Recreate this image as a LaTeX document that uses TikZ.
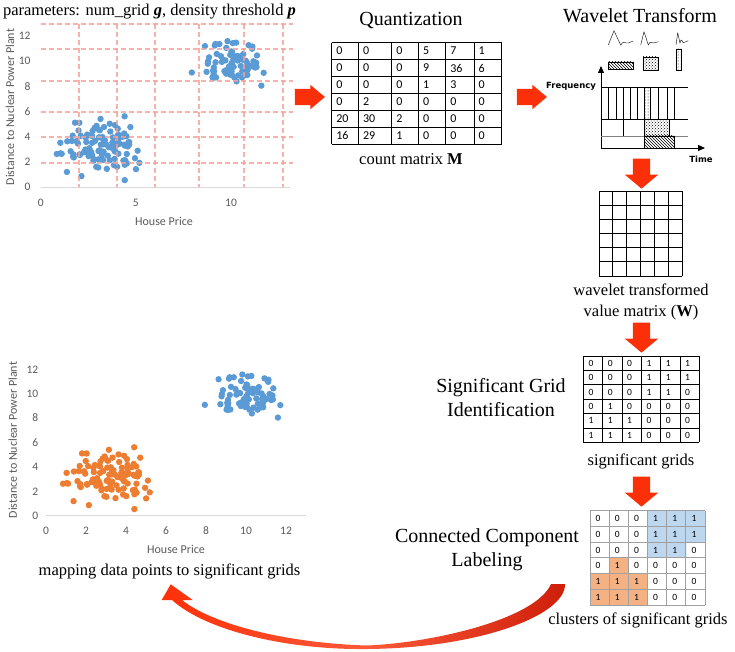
\documentclass[tikz,border=0pt]{standalone}
\usepackage{fontspec}
\setmainfont{Liberation Serif}
\newfontfamily\chartfont{Carlito}
\newfontfamily\pixfont{DejaVu Sans}
\usetikzlibrary{shapes.arrows,patterns,arrows.meta}

\definecolor{arrowred}{RGB}{252,48,8}
\definecolor{curvedark}{RGB}{205,30,10}
\definecolor{ptblue}{RGB}{91,155,213}
\definecolor{ptorange}{RGB}{237,125,49}
\definecolor{gridpink}{RGB}{245,160,150}
\definecolor{axgray}{RGB}{217,217,217}
\definecolor{lblgray}{RGB}{89,89,89}
\definecolor{cellblue}{RGB}{189,215,238}
\definecolor{cellorange}{RGB}{244,177,131}
\definecolor{cellline}{RGB}{160,160,160}

% one cloud of points, sum of three rand for a rough bell shape
\newcommand{\pointcloud}[5]{%
  \foreach \k in {1,...,#4}{
    \pgfmathsetmacro\ptx{#1+#3*(rand+rand+rand)}
    \pgfmathsetmacro\pty{#2+#3*(rand+rand+rand)}
    \fill[#5] (\ptx,\pty) circle[radius=3.2pt];
  }}

\begin{document}
\begin{tikzpicture}[x=1pt,y=-1pt,
  ttl/.style={inner sep=0pt, font=\fontsize{20}{24}\selectfont, align=center},
  captext/.style={inner sep=0pt, font=\fontsize{16.5}{21.5}\selectfont, align=center},
  ticklbl/.style={inner sep=0pt, text=lblgray, font=\chartfont\fontsize{11.5}{13}\selectfont},
  axttl/.style={inner sep=0pt, text=lblgray, font=\chartfont\fontsize{12}{14}\selectfont},
  harrow/.style={single arrow, fill=arrowred, draw=none, inner xsep=0pt, inner ysep=8pt,
    minimum height=30pt, single arrow head extend=4pt, single arrow tip angle=80},
  varrow/.style={single arrow, fill=arrowred, draw=none, inner xsep=0pt, inner ysep=8.5pt, rotate=-90,
    minimum height=30pt, single arrow head extend=8pt, single arrow tip angle=100}]
\tikzstyle{cnum}=[inner sep=0pt, anchor=west, font=\chartfont\fontsize{12}{14}\selectfont]
\tikzstyle{snum}=[inner sep=0pt, anchor=west, font=\chartfont\fontsize{9.5}{11}\selectfont]
\tikzstyle{pix}=[inner sep=0pt, font=\pixfont\bfseries\fontsize{8.5}{10}\selectfont]
\tikzstyle{gridcut}=[gridpink, line width=1.2pt, dash pattern=on 5pt off 3pt, opacity=0.8]
\useasboundingbox (0,0) rectangle (735,652);

% input data with the quantization grid
\node[captext] (params) at (149.5,12) {parameters: num\_grid \textbf{\textit{g}}, density threshold \textbf{\textit{p}}};
\begin{scope}[shift={(40.7,187)}, x=19.03pt, y=12.6pt]
  \pgfmathsetseed{17}
  \pointcloud{3.1}{3.1}{1.0}{110}{ptblue}
  \pointcloud{10.1}{9.8}{0.85}{75}{ptblue}
  \draw[axgray, line width=0.8pt] (0,0) -- (13.1,0);
  \foreach \x in {0,5,10} \node[ticklbl, yshift=-15.7pt] (tx1-\x) at (\x,0) {\x};
  \foreach \y in {0,2,...,12} \node[ticklbl, anchor=east, xshift=-10pt] (ty1-\y) at (0,\y) {\y};
\end{scope}
\foreach \gx in {79,117,155,199,244,283} \draw[gridcut] (\gx,24) -- (\gx,187);
\foreach \gy in {24,49,81,112,137,163} \draw[gridcut] (40.7,\gy) -- (293,\gy);
\node[axttl] (hp1) at (164,221) {House Price};
\node[axttl, rotate=90] (dist1) at (10,107) {Distance to Nuclear Power Plant};

% count matrix
\node[ttl] (quant) at (411,21) {Quantization};
\def\qcols{{331.7,358.3,391.7,418.3,445.7,474,501.7}}
\foreach \vals [count=\r] in {{0,0,0,5,7,1},{0,0,0,9,36,6},{0,0,0,1,3,0},{0,2,0,0,0,0},{20,30,2,0,0,0},{16,29,1,0,0,0}}{
  \foreach \v [count=\c] in \vals {
    \pgfmathsetmacro\xl{\qcols[\c-1]}
    \node[cnum] (M-\r-\c) at (\xl+4.5, 42.7+16.88*\r-8.44) {\v};
  }}
\foreach \i in {0,...,6}{
  \pgfmathsetmacro\xl{\qcols[\i]}
  \draw[line width=0.9pt] (\xl,42.7) -- (\xl,144);
  \draw[line width=0.9pt] (331.7,42.7+16.88*\i) -- (501.7,42.7+16.88*\i);
}
\node[captext] (cntcap) at (411,159) {count matrix \textbf{M}};

% wavelet transform sketch
\node[ttl] (wavelet) at (640,16) {Wavelet Transform};
\draw[line width=0.9pt, -{Triangle[length=7pt,width=6pt]}] (601,148) -- (601,66);
\draw[line width=0.9pt, -{Triangle[length=7pt,width=6pt]}] (601,148) -- (705,148);
\draw[line width=0.9pt] (601,87) -- (688,87) (601,119) -- (688,119);
\draw[gray, line width=0.9pt] (601,136) -- (688,136);
\foreach \vx in {608.7,616,623,630.7,637,658,667,674} \draw[line width=0.8pt] (\vx,87) -- (\vx,119);
\draw[pattern=dots] (644,87) rectangle (650,119);
\draw[line width=0.8pt] (623,119) -- (623,136);
\draw[pattern=crosshatch dots] (644,119) rectangle (669,136);
\draw[pattern=north west lines] (644,136) rectangle (674,148);
\draw[pattern=north west lines] (608,62) rectangle (633,69);
\draw[pattern=crosshatch dots] (643,57) rectangle (658,70);
\draw[pattern=dots] (676,49) rectangle (681,70);
\draw[line join=round] (608.3,45) -- (614,30.7) -- (620.7,45) .. controls (623,40) and (626,44) .. (628.3,43) .. controls (630,42) .. (633.3,41);
\draw[line join=round] (640.7,45) -- (644,31.7) -- (648.3,45) .. controls (650,40) and (652,44) .. (653.5,43) .. controls (655,42) .. (658.3,41.7);
\draw[line join=round] (676,45) -- (677.7,32.7) -- (680,43.3) .. controls (681,39) .. (683.3,42.7) .. controls (685,41.5) .. (688.3,40.7);
\node[pix] (freq) at (571,86) {Frequency};
\node[pix] (time) at (701,159) {Time};

% transformed value matrix
\foreach \i in {0,...,6}{
  \draw[line width=0.9pt] (599+13.83*\i,191) -- (599+13.83*\i,276);
  \draw[line width=0.9pt] (599,191+14.17*\i) -- (682,191+14.17*\i);
}
\node[captext] (wcap) at (641,302) {wavelet transformed\\value matrix (\textbf{W})};

% significant grids
\node[ttl] (sigttl) at (501,398) {Significant Grid\\Identification};
\foreach \vals [count=\r] in {{0,0,0,1,1,1},{0,0,0,1,1,1},{0,0,0,1,1,0},{0,1,0,0,0,0},{1,1,1,0,0,0},{1,1,1,0,0,0}}{
  \foreach \v [count=\c] in \vals
    \node[snum] (S-\r-\c) at (583.3+19.33*\c-19.33+5, 356+14.38*\r-7.19) {\v};
}
\foreach \i in {0,...,6}{
  \draw[line width=0.8pt] (583.3+19.33*\i,356) -- (583.3+19.33*\i,442.3);
  \draw[line width=0.8pt] (583.3,356+14.38*\i) -- (699.3,356+14.38*\i);
}
\node[captext] (sigcap) at (641,461) {significant grids};

% clusters
\node[ttl] (ccl) at (487,550) {Connected Component\\Labeling};
\fill[cellblue] (647.5,510.7) -- (705,510.7) -- (705,542.1) -- (686.3,542.1) -- (686.3,557.9) -- (647.5,557.9) -- cycle;
\fill[cellorange] (609.2,557.9) -- (628.3,557.9) -- (628.3,573.6) -- (647.5,573.6) -- (647.5,605) -- (590,605) -- (590,573.6) -- (609.2,573.6) -- cycle;
\foreach \vals [count=\r] in {{0,0,0,1,1,1},{0,0,0,1,1,1},{0,0,0,1,1,0},{0,1,0,0,0,0},{1,1,1,0,0,0},{1,1,1,0,0,0}}{
  \foreach \v [count=\c] in \vals
    \node[snum] (C-\r-\c) at (590+19.17*\c-19.17+5.5, 510.7+15.72*\r-7.86) {\v};
}
\foreach \i in {0,...,6}{
  \draw[cellline, line width=0.8pt] (590+19.17*\i,510.7) -- (590+19.17*\i,605);
  \draw[cellline, line width=0.8pt] (590,510.7+15.72*\i) -- (705,510.7+15.72*\i);
}
\node[captext] (clcap) at (638,620) {clusters of significant grids};

% result: points coloured by cluster
\begin{scope}[shift={(46,515.7)}, x=20pt, y=12.2pt]
  \pgfmathsetseed{17}
  \pointcloud{3.1}{3.1}{1.0}{110}{ptorange}
  \pointcloud{10.1}{9.8}{0.85}{75}{ptblue}
  \draw[axgray, line width=0.8pt] (0,0) -- (13,0);
  \foreach \x in {0,2,...,12} \node[ticklbl, yshift=-15pt] (tx2-\x) at (\x,0) {\x};
  \foreach \y in {0,2,...,12} \node[ticklbl, anchor=east, xshift=-7.5pt] (ty2-\y) at (0,\y) {\y};
\end{scope}
\node[axttl] (hp2) at (176,549) {House Price};
\node[axttl, rotate=90] (dist2) at (12.7,440) {Distance to Nuclear Power Plant};
\node[captext] (mapcap) at (169.5,571) {mapping data points to significant grids};

% block arrows between the steps
\node[harrow] (a1) at (305,97) {};
\node[harrow] (a2) at (527,97) {};
\node[varrow] (a3) at (641.5,170) {};
\node[varrow] (a4) at (641.5,334) {};
\node[varrow] (a5) at (641.5,488) {};

% curved return arrow, thick at the table end
\shade[left color=arrowred, right color=curvedark, middle color=arrowred!80!white]
  (551,584) -- (565,584) .. controls (566,615) and (480,648) .. (367,649)
  .. controls (285,650) and (205,630) .. (172,600) -- (161.7,600) -- (170.7,584.3)
  -- (192.7,600) -- (182,600) .. controls (212,624) and (285,643) .. (367,645.5)
  .. controls (430,643) and (535,620) .. (551,584) -- cycle;
\end{tikzpicture}
\end{document}
